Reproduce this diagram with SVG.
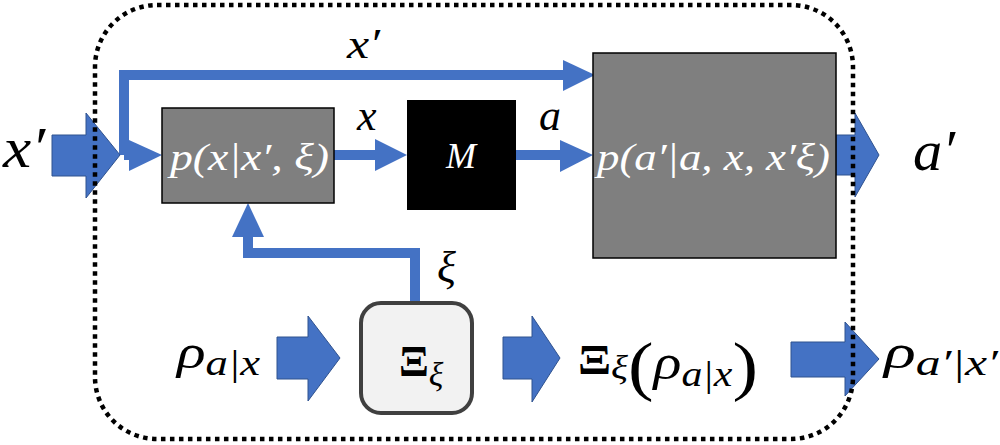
<svg xmlns="http://www.w3.org/2000/svg" width="1000" height="445" viewBox="0 0 1000 445">
<defs>
<style>
.blk{fill:#4472C4;stroke:#2F528F;stroke-width:1}
.line{fill:none;stroke:#4472C4;stroke-width:10}
.head{fill:#4472C4}
.m{font-family:"Liberation Serif","Times New Roman",serif;font-style:italic;fill:#000}
.w{fill:#fff}
.up{font-style:normal}
.gbox{fill:#7F7F7F;stroke:#000;stroke-width:1.5}
</style>
</defs>
<rect width="1000" height="445" fill="#fff"/>
<g id="connectors">
<polyline class="line" points="124,155 124,75 565,75"/>
<polygon class="head" points="563,60 595,75 563,91"/>
<line class="line" x1="124" y1="155" x2="131" y2="155"/>
<polygon class="head" points="129,140 162,155 129,171"/>
<line class="line" x1="334" y1="155" x2="377" y2="155"/>
<polygon class="head" points="375,139 407,155 375,171"/>
<line class="line" x1="516" y1="155" x2="562" y2="155"/>
<polygon class="head" points="560,140 593,155 560,172"/>
<polyline class="line" points="415,302 415,253 248,253 248,235"/>
<polygon class="head" points="232,237 248,203 264,237"/>
<polygon class="blk" points="52,135 86,135 86,113 120,155 86,198 86,176 52,176"/>
<polygon class="blk" points="836,135 855,135 855,113 879,155 855,197 855,175 836,175"/>
<polygon class="blk" points="277,337 308,337 308,316 340,358 308,401 308,379 277,379"/>
<polygon class="blk" points="503,337 532,337 532,316 560,358 532,402 532,379 503,379"/>
<polygon class="blk" points="791,342 845,342 845,322 879,359 845,396 845,377 791,377"/>
</g>
<g id="node-p1">
<rect class="gbox" x="162" y="108" width="172" height="95"/>
<text class="m w" x="170" y="170" font-size="37" textLength="159" lengthAdjust="spacingAndGlyphs">p(x|x′, ξ)</text>
</g>
<g id="node-M">
<rect x="407" y="100" width="109" height="110" fill="#000"/>
<text class="m w" x="461" y="168" font-size="36" text-anchor="middle">M</text>
</g>
<g id="node-p2">
<rect class="gbox" x="593" y="53" width="243" height="205"/>
<text class="m w" x="597" y="170" font-size="37" textLength="233" lengthAdjust="spacingAndGlyphs">p(a′|a, x, x′ξ)</text>
</g>
<g id="node-Xi">
<rect x="361" y="303" width="111" height="110" rx="20" ry="20" fill="#F2F2F2" stroke="#404040" stroke-width="4"/>
<text class="m" x="399" y="376" font-size="44"><tspan class="up" font-weight="bold">Ξ</tspan><tspan font-size="34" dy="10">ξ</tspan></text>
</g>
<g id="labels">
<text class="m" x="3" y="167" font-size="56" textLength="42" lengthAdjust="spacingAndGlyphs">x′</text>
<text class="m" x="347" y="58" font-size="42" textLength="33" lengthAdjust="spacingAndGlyphs">x′</text>
<text class="m" x="357" y="130" font-size="44">x</text>
<text class="m" x="539" y="130" font-size="44">a</text>
<text class="m" x="913" y="170" font-size="56" textLength="42" lengthAdjust="spacingAndGlyphs">a′</text>
<text class="m" x="437" y="282" font-size="44">ξ</text>
<text class="m" x="177" y="368" font-size="48" textLength="83" lengthAdjust="spacingAndGlyphs">ρ<tspan font-size="36" dy="7">a|x</tspan></text>
<text class="m" x="578" y="374" font-size="42" textLength="180" lengthAdjust="spacingAndGlyphs"><tspan class="up" font-weight="bold">Ξ</tspan><tspan font-size="34" dy="5">ξ</tspan><tspan font-size="66" dy="9" class="up">(</tspan><tspan font-size="50" dy="-9">ρ</tspan><tspan font-size="36" dy="7">a|x</tspan><tspan font-size="66" dy="2" class="up">)</tspan></text>
<text class="m" x="884" y="368" font-size="48" textLength="114" lengthAdjust="spacingAndGlyphs">ρ<tspan font-size="36" dy="7">a′|x′</tspan></text>
</g>
<g id="border">
<rect x="95" y="5" width="758" height="434" rx="62" ry="62" fill="none" stroke="#000" stroke-width="4.5" stroke-dasharray="4.5 4.5"/>
</g>
</svg>
